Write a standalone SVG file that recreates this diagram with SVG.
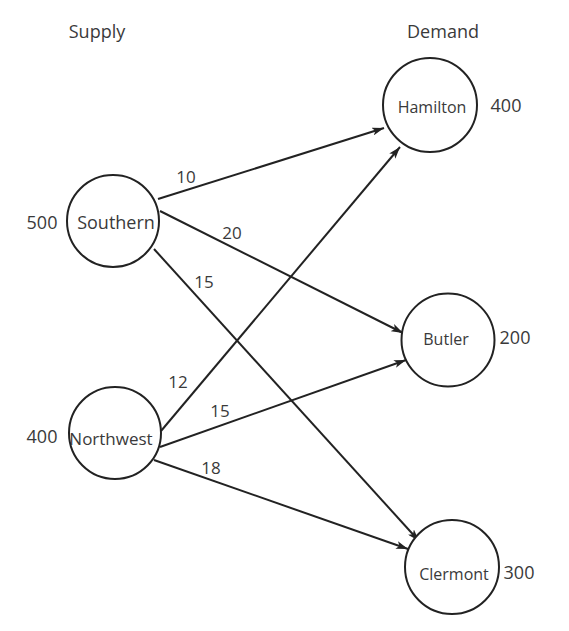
<svg xmlns="http://www.w3.org/2000/svg" width="569" height="631" viewBox="0 0 569 631">
<style>
text{font-family:"Open Sans","Noto Sans",sans-serif;fill:#3a3a3a;text-anchor:middle;dominant-baseline:central}
.node circle{fill:#fff;stroke:#222;stroke-width:2}
.edges line{stroke:#222;stroke-width:2}
.num{font-size:18px}
.lbl{font-size:17px}
.nl{font-size:16px}
</style>
<defs>
<marker id="ah" viewBox="0 0 12 8" refX="12" refY="4" markerWidth="12" markerHeight="8" markerUnits="userSpaceOnUse" orient="auto">
<path d="M0,0 L12,4 L0,8 L3,4 Z" fill="#222"/>
</marker>
</defs>
<rect width="569" height="631" fill="#fff"/>
<text x="97" y="31" class="num">Supply</text>
<text x="443" y="31" class="num">Demand</text>
<g class="edges">
<line x1="158" y1="199" x2="384" y2="128" marker-end="url(#ah)"/>
<line x1="160" y1="211" x2="403" y2="333" marker-end="url(#ah)"/>
<line x1="154" y1="249" x2="419" y2="541" marker-end="url(#ah)"/>
<line x1="161" y1="431" x2="400" y2="147" marker-end="url(#ah)"/>
<line x1="160" y1="447" x2="406" y2="360" marker-end="url(#ah)"/>
<line x1="154" y1="460" x2="408" y2="549" marker-end="url(#ah)"/>
<text x="186" y="176" class="lbl">10</text>
<text x="232" y="232" class="lbl">20</text>
<text x="204" y="281" class="lbl">15</text>
<text x="178" y="381" class="lbl">12</text>
<text x="220" y="410" class="lbl">15</text>
<text x="211" y="467" class="lbl">18</text>
</g>
<g id="southern" class="node">
<circle cx="113" cy="221" r="46"/>
<text x="116" y="222" style="font-size:18px">Southern</text>
<text x="42" y="222" class="num">500</text>
</g>
<g id="northwest" class="node">
<circle cx="115" cy="433" r="46"/>
<text x="111" y="438" style="font-size:17px">Northwest</text>
<text x="42" y="436" class="num">400</text>
</g>
<g id="hamilton" class="node">
<circle cx="430" cy="105" r="47"/>
<text x="432" y="107" class="nl">Hamilton</text>
<text x="506" y="105" class="num">400</text>
</g>
<g id="butler" class="node">
<circle cx="448" cy="340" r="46.5"/>
<text x="446" y="339" class="nl">Butler</text>
<text x="515" y="337" class="num">200</text>
</g>
<g id="clermont" class="node">
<circle cx="452" cy="567" r="47"/>
<text x="454" y="574" class="nl">Clermont</text>
<text x="519" y="572" class="num">300</text>
</g>
</svg>
